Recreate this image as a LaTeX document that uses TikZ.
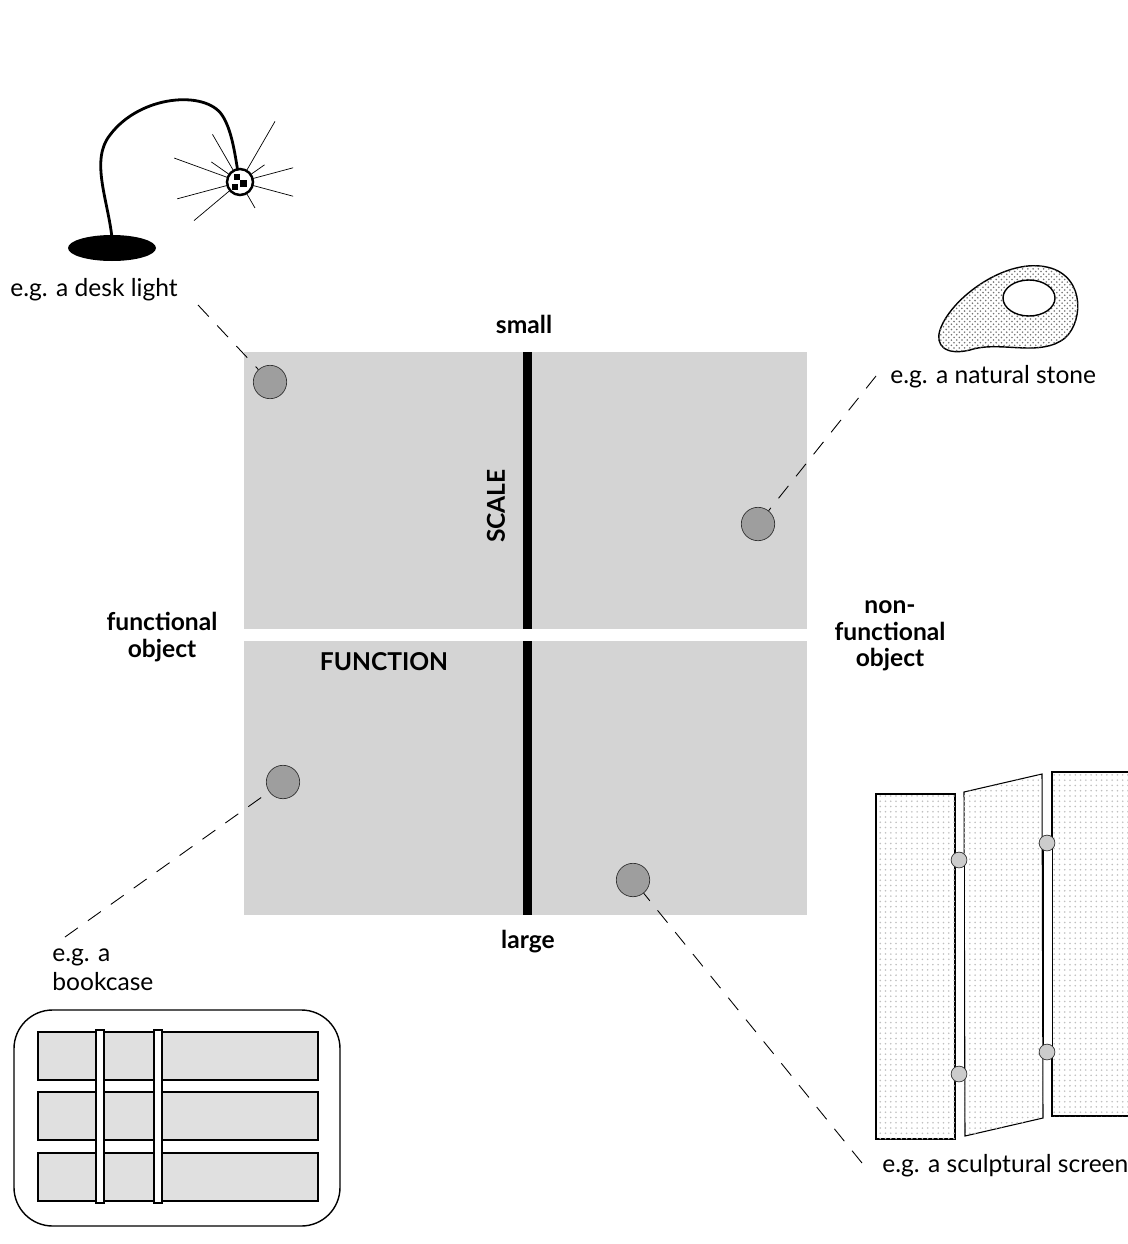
\documentclass[tikz,border=0pt]{standalone}
\usepackage{fontspec}
\setmainfont{Lato}
\usepackage{tikz}
\usetikzlibrary{patterns}

\tikzset{
  quad/.style={fill=black!17, draw=none},
  marker/.style={circle, draw=black!80, fill=black!38, minimum size=38pt*0.5, inner sep=0pt},
  hinge/.style={circle, draw=black!80, fill=black!20, minimum size=18pt*0.5, inner sep=0pt},
  lead/.style={dash pattern=on 9pt off 7pt, line width=0.5pt},
  lbl/.style={font=\fontsize{14}{17}\selectfont, inner sep=0pt},
  axis/.style={font=\bfseries\fontsize{14}{15}\selectfont, inner sep=0pt, align=center},
  panel/.style={draw, line width=0.6pt, fill=white, postaction={pattern=dots, pattern color=black!25}},
}

\begin{document}
\begin{tikzpicture}[x=0.02cm, y=-0.02cm]
\useasboundingbox (0,0) rectangle (1127,1244);

% the four fields
\fill[quad] (244,352) rectangle (807,629);
\fill[quad] (244,641) rectangle (807,915);
\fill (523,352) rectangle (532,629);
\fill (523,641) rectangle (532,915);

\node[axis] (small) at (524,324) {small};
\node[axis] (large) at (528,942) {large};
\node[axis, rotate=90] (scale) at (496,506) {SCALE};
\node[axis] (function) at (384,662) {FUNCTION};
\node[axis] (func) at (162,637) {functional\\object};
\node[axis] (nonfunc) at (890,636) {non-\\functional\\object};

% markers
\node[marker] (m1) at (270,382) {};
\node[marker] (m2) at (758,524) {};
\node[marker] (m3) at (283,782) {};
\node[marker] (m4) at (633,880) {};

% labels
\node[lbl, anchor=west] (l1) at (10,290) {e.g. a desk light};
\node[lbl, anchor=west] (l2) at (890,377) {e.g. a natural stone};
\node[lbl, anchor=north west, align=left] (l3) at (52,948) {e.g. a\\bookcase};
\node[lbl, anchor=west] (l4) at (882,1166) {e.g. a sculptural screen};

\coordinate (c1) at (198,305);
\coordinate (c2) at (876,376);
\coordinate (c3) at (65,937);
\coordinate (c4) at (862,1163);
\draw[lead] (c1) -- (m1);
\draw[lead] (c2) -- (m2);
\draw[lead] (c3) -- (m3);
\draw[lead] (c4) -- (m4);

% desk light
\fill (112,248) ellipse (44 and 13);
\draw[line width=1.6pt] (112,238) .. controls (108,200) and (90,160) .. (110,135)
  .. controls (140,95) and (205,90) .. (222,115) .. controls (232,130) and (235,155) .. (238,172);
\foreach \a/\r in {15/55, 60/30, 140/60, 165/65, 200/70, 215/35, 240/55, 300/70, 325/30, 345/55}
  \draw[line width=0.4pt] (240,182) -- ++(\a:\r);
\draw[line width=1.4pt, fill=white] (240,182) circle (13);
\fill (234,174) rectangle (240,180);
\fill (240,180) rectangle (247,187);
\fill (232,184) rectangle (238,190);

% natural stone
\draw[line width=0.8pt, fill=white, postaction={pattern=crosshatch dots, pattern color=black!55}]
  (940,330) .. controls (950,300) and (1000,262) .. (1040,266)
  .. controls (1085,270) and (1085,320) .. (1065,338)
  .. controls (1040,358) and (1000,340) .. (970,350)
  .. controls (945,356) and (935,345) .. (940,330) -- cycle;
\draw[line width=0.8pt, fill=white] (1029,298) ellipse (26 and 18);

% bookcase
\draw[line width=0.8pt, rounded corners=22pt] (14,1010) rectangle (340,1226);
\foreach \y in {1032,1092,1153}
  \draw[fill=black!12, line width=0.6pt] (38,\y) rectangle (318,\y+48);
\foreach \x in {96,154}
  \draw[fill=white, line width=0.6pt] (\x,1030) rectangle (\x+8,1203);

% sculptural screen
\draw[panel] (876,794) rectangle (955,1139);
\draw[panel] (964,792) -- (1042,774) -- (1043,1118) -- (965,1136) -- cycle;
\draw[panel] (1052,772) -- (1140,772) -- (1140,1116) -- (1052,1116) -- cycle;
\draw[fill=white, line width=0.5pt] (955,860) rectangle (964,1074);
\draw[fill=white, line width=0.5pt] (1043,843) rectangle (1052,1052);
\node[hinge] (h1) at (959,860) {};
\node[hinge] (h2) at (959,1074) {};
\node[hinge] (h3) at (1047,843) {};
\node[hinge] (h4) at (1047,1052) {};
\end{tikzpicture}
\end{document}
